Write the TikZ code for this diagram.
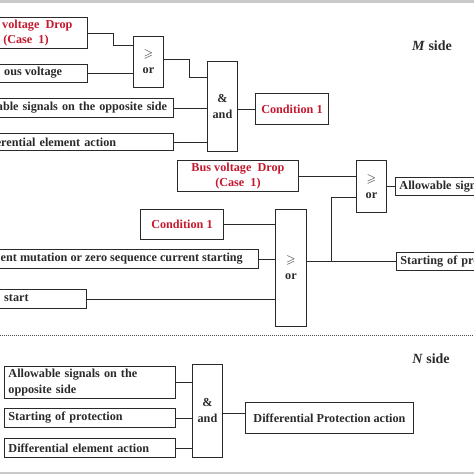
\documentclass[tikz,border=0pt]{standalone}
\usepackage{amssymb}
\usepackage{fontspec}
\setmainfont{Liberation Serif}
\usetikzlibrary{positioning}
\definecolor{ink}  {HTML}{2A2A2A}
\definecolor{alarm}{HTML}{C4182E}
\definecolor{barc} {HTML}{C9C9C9}
\definecolor{dotc} {HTML}{4A4A4A}
\tikzset{
  sig/.style  = {draw=ink, line width=0.9pt, anchor=north west, inner xsep=4pt,
                 inner ysep=0pt, align=left, text=ink},
  warn/.style = {draw=ink, line width=0.9pt, anchor=north west, inner sep=0pt,
                 align=center, text=alarm},
  gate/.style = {draw=ink, line width=0.9pt, anchor=north west, inner sep=0pt,
                 minimum width=30pt, align=center, text=ink,
                 font=\fontsize{12.2}{16}\selectfont\bfseries},
  lbl/.style  = {anchor=west, inner sep=0pt, text=ink},
  side/.style = {inner sep=0pt, text=ink, font=\fontsize{14}{16}\selectfont\bfseries},
  wire/.style = {draw=ink, line width=0.9pt},
  sep/.style  = {draw=dotc, line width=0.8pt, dash pattern=on 0.8pt off 1.2pt},
}

\begin{document}
\begin{tikzpicture}[x=1pt, y=-1pt, font=\fontsize{12.2}{14.5}\selectfont\bfseries]
  \useasboundingbox (0,0) rectangle (474,474);
  \clip (0,0) rectangle (474,474);
  \fill[barc] (0,0) rectangle (474,2.5);
  \fill[barc] (0,471.5) rectangle (474,474);

  % M side, condition 1
  \node[warn, minimum width=123pt, minimum height=31pt] (drop1) at (-36,17) {Bus voltage~ Drop\\(Case~ 1)};
  \node[sig, minimum width=127pt, minimum height=18pt] (volt) at (-40,64) {};
  \node[lbl] (volttxt) at (4,73) {ous voltage};
  \node[gate, minimum height=51pt] (or1) at (133,36) {$\geqslant$\\or};
  \node[sig, text width=203pt, minimum height=19pt] (allow1) at (-38,98) {\mbox{Allowable signals on the opposite side}};
  \node[sig, text width=194pt, minimum height=17pt] (diff1) at (-29,133) {\mbox{Differential element action}};
  \node[gate, minimum height=90pt] (and1) at (207,61) {\&\\and};
  \node[warn, minimum width=73pt, minimum height=31pt] (cond1) at (255,93) {Condition 1};
  \node[side] (mside) at (432,46) {\textit{M} side};

  \draw[wire] (drop1.east) -- ++(26,0) |- ([yshift=-9pt]or1.north west);
  \draw[wire] (volt.east) -- (volt.east -| or1.west);
  \draw[wire] ([yshift=-23pt]or1.north east) -- ++(26,0) |- ([yshift=-16pt]and1.north west);
  \draw[wire] (allow1.east) -- (allow1.east -| and1.west);
  \draw[wire] (diff1.east) -- (diff1.east -| and1.west);
  \draw[wire] (cond1.west -| and1.east) -- (cond1.west);

  % M side, outputs
  \node[warn, minimum width=121pt, minimum height=31pt] (drop2) at (177,160) {Bus voltage~ Drop\\(Case~ 1)};
  \node[gate, minimum height=52pt] (or2) at (356,160) {$\geqslant$\\or};
  \node[sig, text width=212pt, minimum height=18pt] (allow2) at (395,177) {\mbox{Allowable signals on the opposite side}};
  \node[warn, minimum width=83pt, minimum height=30pt] (cond2) at (140,209) {Condition 1};
  \node[gate, minimum width=31pt, minimum height=117pt] (or3) at (275,209) {$\geqslant$\\or};
  \node[sig, minimum width=298pt, minimum height=19pt] (curr) at (-40,249) {};
  \node[lbl] (currtxt) at (0.5,258.5) {ent mutation or zero sequence current starting};
  \node[sig, minimum width=126pt, minimum height=19pt] (fault) at (-40,289) {};
  \node[lbl] (faulttxt) at (4,298.5) {start};
  \node[sig, text width=142pt, minimum height=18pt] (start1) at (396,252) {\mbox{Starting of protection}};
  \coordinate (tap) at (331,261);

  \draw[wire] (drop2.east) -- (drop2.east -| or2.west);
  \draw[wire] (allow2.west -| or2.east) -- (allow2.west);
  \draw[wire] (cond2.east) -- (cond2.east -| or3.west);
  \draw[wire] (curr.east) -- (curr.east -| or3.west);
  \draw[wire] (fault.east) -- (fault.east -| or3.west);
  \draw[wire] (start1.west -| or3.east) -- (start1.west);
  \draw[wire] (tap) |- ([yshift=-37pt]or2.north west);

  \draw[sep] (0,335) -- (474,335);

  % N side
  \node[side] (nside) at (431,359) {\textit{N} side};
  \node[sig, text width=163pt, minimum height=32pt, font=\fontsize{12.2}{16.5}\selectfont\bfseries] (allow3) at (4,366) {Allowable signals on the\\opposite side};
  \node[sig, text width=163pt, minimum height=19pt] (start2) at (4,408) {Starting of protection};
  \node[sig, text width=163pt, minimum height=19pt] (diff2) at (4,438) {Differential element action};
  \node[gate, minimum height=93pt] (and2) at (192,364) {\&\\and};
  \node[warn, text=ink, minimum width=168pt, minimum height=31pt] (prot) at (245,402) {Differential Protection action};

  \draw[wire] (allow3.east) -- (allow3.east -| and2.west);
  \draw[wire] (start2.east) -- (start2.east -| and2.west);
  \draw[wire] (diff2.east) -- (diff2.east -| and2.west);
  \draw[wire] ([yshift=-2.5pt]and2.east) -- ([yshift=-2.5pt]and2.east -| prot.west);
\end{tikzpicture}
\end{document}
